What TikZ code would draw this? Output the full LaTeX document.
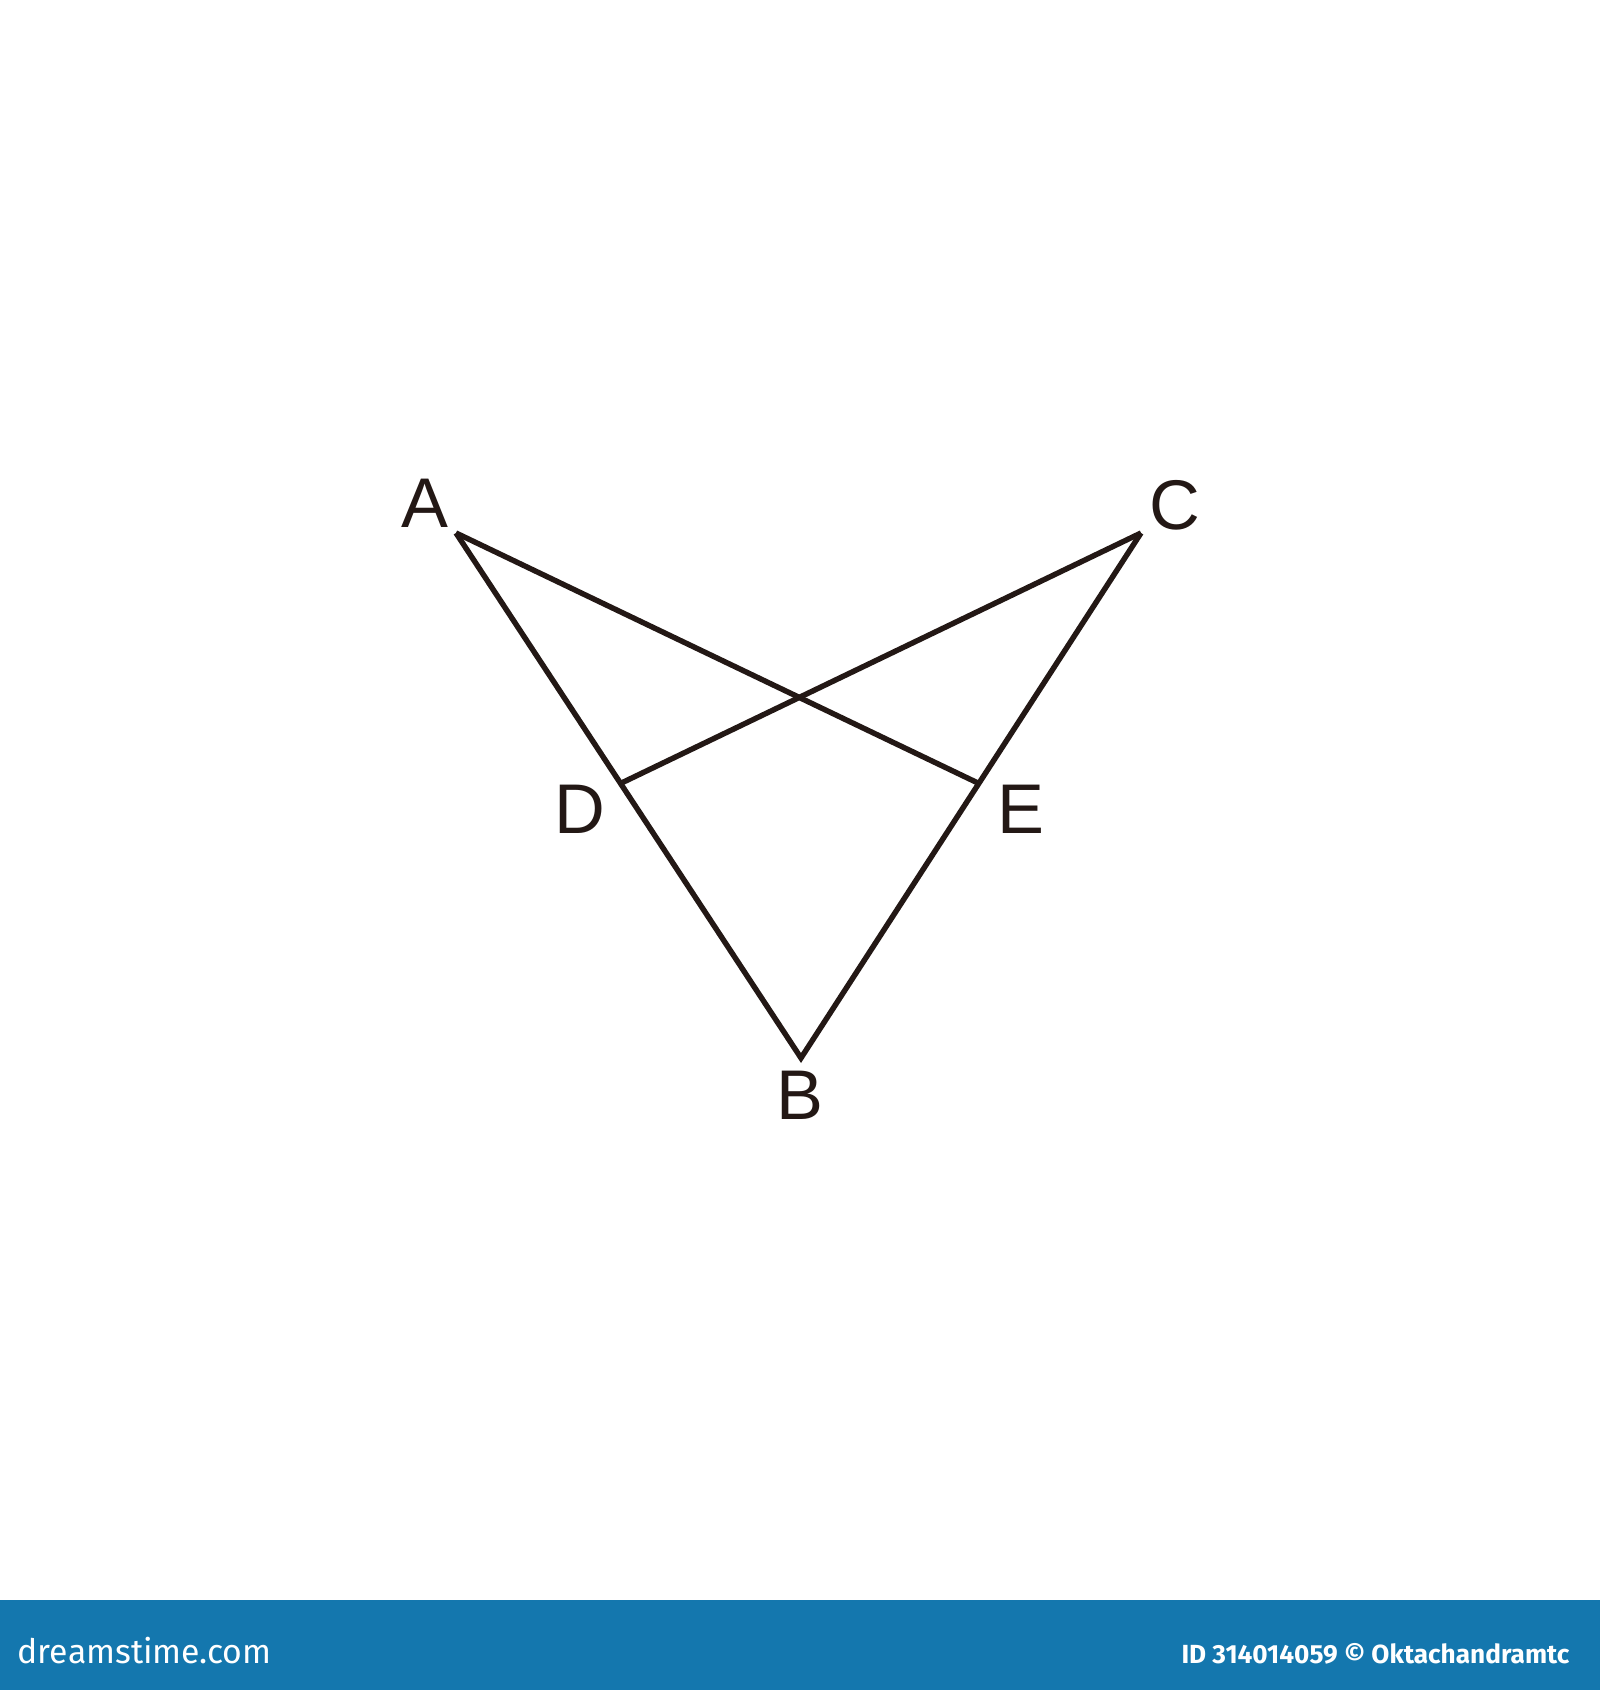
\documentclass[tikz,border=0pt]{standalone}
\usepackage{fontspec}
\setmainfont{Liberation Sans}
\newfontfamily\barfont{Fira Sans}
\usetikzlibrary{positioning, calc}
\definecolor{inkline}{HTML}{231815}
\definecolor{barblue}{HTML}{1477AE}

\begin{document}
\begin{tikzpicture}[x=0.01cm,y=-0.01cm]
    \tikzstyle{side}=[draw=inkline, line width=1.55pt, line join=miter]
    \tikzstyle{vlabel}=[text=inkline, font=\fontsize{20}{20}\selectfont, inner sep=0pt]
    \tikzstyle{bartext}=[text=white, inner sep=0pt, anchor=base west]

    \useasboundingbox (0,0) rectangle (1600,1690);
    \fill[white] (0,0) rectangle (1600,1600);
    \fill[barblue] (0,1600) rectangle (1600,1690);

    % vertices
    \coordinate (A) at (456,533);
    \coordinate (C) at (1141,533);
    \coordinate (B) at (801,1058);
    \coordinate (D) at ($(A)!0.477!(B)$);
    \coordinate (E) at ($(C)!0.477!(B)$);

    \draw[side] (A) -- (B) -- (C);
    \draw[side] (A) -- (E);
    \draw[side] (C) -- (D);

    % labels
    \node[vlabel] (lA) at (425,503) {A};
    \node[vlabel] (lC) at (1175,505) {C};
    \node[vlabel] (lD) at (580,809) {D};
    \node[vlabel] (lE) at (1021,809) {E};
    \node[vlabel] (lB) at (800,1095) {B};

    % footer
    \node[bartext, font=\barfont\fontsize{9.6}{10}\selectfont] (site) at (17,1663) {dreamstime.com};
    \node[bartext, anchor=base east, font=\barfont\bfseries\fontsize{7.45}{8}\selectfont] (credit) at (1570,1663) {ID 314014059 © Oktachandramtc};
\end{tikzpicture}
\end{document}
